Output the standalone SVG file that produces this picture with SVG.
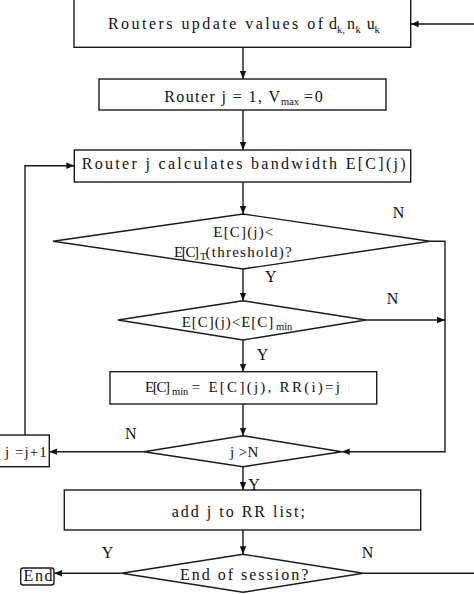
<svg xmlns="http://www.w3.org/2000/svg" width="474" height="594" viewBox="0 0 474 594">
<defs>
<style>
.box{fill:#fff;stroke:#1a1a1a;stroke-width:1.4}
.ln{fill:none;stroke:#1a1a1a;stroke-width:1.4;marker-end:url(#ah)}
text{font-family:"Liberation Serif","Times New Roman",serif;fill:#111;font-size:16px}
.s{font-size:10.5px}
.d{font-size:15px}
.lb{font-size:16px}
</style>
<marker id="ah" viewBox="0 0 10 10" refX="10" refY="5" markerWidth="8" markerHeight="8" markerUnits="userSpaceOnUse" orient="auto">
<path d="M0,1 L10,5 L0,9 Z" fill="#111"/>
</marker>
</defs>
<rect width="474" height="594" fill="#fff"/>

<g id="connectors">
<path class="ln" d="M243,47.3 V79"/>
<path class="ln" d="M243,110 V150"/>
<path class="ln" d="M243,182 V214"/>
<path class="ln" d="M243,269 V300.7"/>
<path class="ln" d="M243,340 V371.7"/>
<path class="ln" d="M243,404 V435.7"/>
<path class="ln" d="M243,466.7 V490"/>
<path class="ln" d="M243,530 V554.3"/>
<path class="ln" d="M430,241.3 H445 V451.7 H341.7"/>
<path class="ln" d="M366,320 H445"/>
<path class="ln" d="M144,451.7 H49.3"/>
<path class="ln" d="M25,435 V165.7 H74.3"/>
<path class="ln" d="M121.7,573.3 H54"/>
<path class="ln" d="M363.3,573.3 H480 V24 H410.7"/>
<text class="lb" x="392.7" y="218">N</text>
<text class="lb" x="265" y="281.7">Y</text>
<text class="lb" x="386.7" y="304.3">N</text>
<text class="lb" x="256.7" y="360">Y</text>
<text class="lb" x="125" y="439">N</text>
<text class="lb" x="248.3" y="490">Y</text>
<text class="lb" x="101.7" y="558.3">Y</text>
<text class="lb" x="361.7" y="558.3">N</text>
</g>

<g id="n-update">
<rect class="box" x="74" y="-2" width="336.7" height="49.3"/>
<text x="108" y="29" textLength="215" lengthAdjust="spacing">Routers update values of</text>
<text x="329" y="29">d</text><text class="s" x="337" y="33">k,</text>
<text x="347" y="29">n</text><text class="s" x="355.5" y="33">k</text>
<text x="366.7" y="29">u</text><text class="s" x="374.5" y="33">k</text>
</g>

<g id="n-init">
<rect class="box" x="99" y="79" width="287" height="31"/>
<text x="164.3" y="101.7" textLength="115.7" lengthAdjust="spacing">Router j = 1, V</text>
<text class="s" x="281" y="105" font-size="11">max</text>
<text x="304" y="101.7" textLength="18.7" lengthAdjust="spacing">=0</text>
</g>

<g id="n-calc">
<rect class="box" x="74.3" y="150" width="336.4" height="32"/>
<text x="81.7" y="169" textLength="324" lengthAdjust="spacing">Router j calculates bandwidth E[C](j)</text>
</g>

<g id="n-threshold">
<polygon class="box" points="243,214 430,241.3 243,269 53,241.3"/>
<text class="d" x="213.3" y="237.3" textLength="60" lengthAdjust="spacing">E[C](j)&lt;</text>
<text class="d" x="174" y="256.7" textLength="25" lengthAdjust="spacing">E[C]</text>
<text class="s" x="200" y="260">T</text>
<text class="d" x="205.5" y="256.7" textLength="86.2" lengthAdjust="spacing">(threshold)?</text>
</g>

<g id="n-min">
<polygon class="box" points="243,300.7 366,320 243,340 118,320"/>
<text class="d" x="181.7" y="326.7" textLength="91.6" lengthAdjust="spacing">E[C](j)&lt;E[C]</text>
<text class="s" x="276" y="330">min</text>
</g>

<g id="n-assign">
<rect class="box" x="110" y="371.7" width="266.7" height="32.3"/>
<text class="d" x="145" y="391.7" textLength="25" lengthAdjust="spacing">E[C]</text>
<text class="s" x="172" y="395">min</text>
<text class="d" x="191.7" y="391.7" textLength="148.3" lengthAdjust="spacing">= E[C](j), RR(i)=j</text>
</g>

<g id="n-jn">
<polygon class="box" points="243,435.7 341.7,451.7 243,466.7 144,451.7"/>
<text class="d" x="230" y="456.5" textLength="28.3" lengthAdjust="spacing">j &gt;N</text>
</g>

<g id="n-inc">
<rect class="box" x="-2" y="435" width="51.3" height="31.7"/>
<text class="d" x="5" y="456.7" textLength="41.7" lengthAdjust="spacing">j =j+1</text>
</g>

<g id="n-add">
<rect class="box" x="64.3" y="490" width="356.4" height="40"/>
<text x="171.7" y="517" textLength="133.3" lengthAdjust="spacing">add j to RR list;</text>
</g>

<g id="n-endsession">
<polygon class="box" points="243,554.3 363.3,573.3 243,592.3 121.7,573.3"/>
<text x="180" y="580" textLength="128.3" lengthAdjust="spacing">End of session?</text>
</g>

<g id="n-end">
<rect class="box" x="20.7" y="568" width="33.3" height="17" rx="2.5"/>
<text x="23.5" y="580.5" textLength="29" lengthAdjust="spacing">End</text>
</g>
</svg>
